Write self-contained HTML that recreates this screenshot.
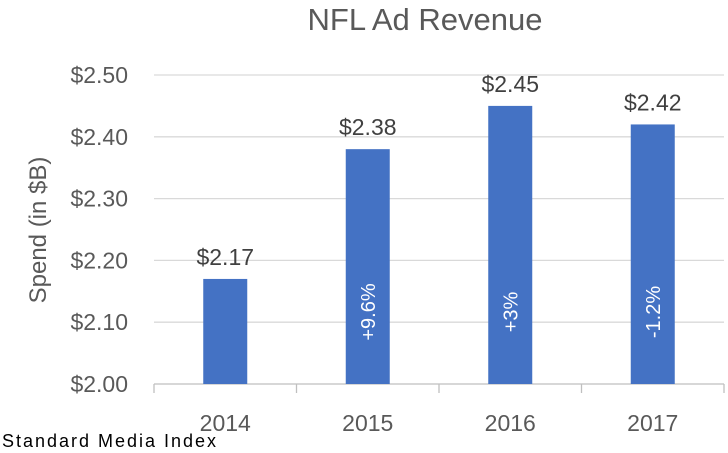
<!DOCTYPE html>
<html><head><meta charset="utf-8"><style>
body{margin:0;background:#fff;}
svg{display:block;font-family:"Liberation Sans",sans-serif;}
</style></head><body>
<svg id="chart" width="728" height="453">
<text x="425" y="30" text-anchor="middle" font-size="31" fill="#595959">NFL Ad Revenue</text>
<text transform="translate(46,230) rotate(-90)" text-anchor="middle" font-size="24" fill="#595959">Spend (in $B)</text>
<text x="2" y="447" font-size="18" textLength="214" lengthAdjust="spacing" fill="#000">Standard Media Index</text>
<g id="grid"></g><g id="bars"></g><g id="labels"></g>
</svg>
<script>
const categories=["2014","2015","2016","2017"];
const values=[2.17,2.38,2.45,2.42];
const valueLabels=["$2.17","$2.38","$2.45","$2.42"];
const changeLabels=["","+9.6%","+3%","-1.2%"];
const yTicks=[2.00,2.10,2.20,2.30,2.40,2.50];
const yTickLabels=["$2.00","$2.10","$2.20","$2.30","$2.40","$2.50"];
const NS="http://www.w3.org/2000/svg";
const x0=154,x1=724,yMin=2.0,yMax=2.5,py0=384,py1=75;
const band=(x1-x0)/categories.length;
function y(v){return py0-(v-yMin)/(yMax-yMin)*(py0-py1);}
function xc(i){return x0+band*(i+0.5);}
function mk(tag,attrs,parent){const e=document.createElementNS(NS,tag);for(const k in attrs)e.setAttribute(k,attrs[k]);parent.appendChild(e);return e;}
const grid=document.getElementById('grid'),bars=document.getElementById('bars'),labels=document.getElementById('labels');
yTicks.forEach((t,i)=>{
  const l=mk('line',{x1:x0,x2:x1,y1:y(t),y2:y(t),stroke:i===0?'#bfbfbf':'#d9d9d9','stroke-width':1.3},grid);
  
  
  const tx=mk('text',{x:128,y:y(t)+8,'text-anchor':'end','font-size':23,fill:'#595959'},labels);
  tx.textContent=yTickLabels[i];
  
  
});
for(let i=0;i<=categories.length;i++){
  const tk=mk('line',{x1:x0+band*i,x2:x0+band*i,y1:py0,y2:py0+9,stroke:'#bfbfbf','stroke-width':1.3},grid);
  
  
}
const bw=44;
categories.forEach((c,i)=>{
  const cx=xc(i),top=y(values[i]);
  const r=mk('rect',{x:cx-bw/2,y:top,width:bw,height:py0-top,fill:'#4472c4'},bars);
  
  
  const v=mk('text',{x:cx,y:top-14,'text-anchor':'middle','font-size':23,fill:'#404040'},labels);
  v.textContent=valueLabels[i];
  
  
  const xl=mk('text',{x:cx,y:431,'text-anchor':'middle','font-size':23,fill:'#595959'},labels);
  xl.textContent=c;
  
  
  if(changeLabels[i]){
    const ch=mk('text',{transform:`translate(${cx+7},312) rotate(-90)`,'text-anchor':'middle','font-size':20,fill:'#fff'},labels);
    ch.textContent=changeLabels[i];
    
    
  }
});
</script>
</body></html>
